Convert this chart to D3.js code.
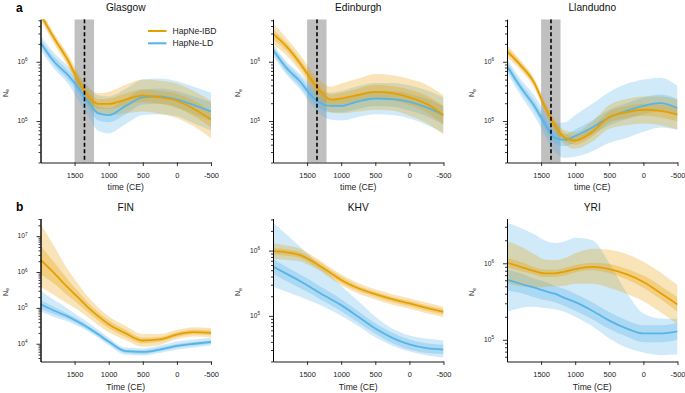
<!DOCTYPE html>
<html>
<head>
<meta charset="utf-8">
<script src="https://cdn.jsdelivr.net/npm/d3@7"></script>
<style>
  body { margin: 0; background: #fff; }
  svg { display: block; font-family: "Liberation Sans", Arial, Helvetica, sans-serif; }
</style>
</head>
<body>
<div id="chart"></div>
<script>
// sample years (CE) shared by every curve
const years = [2000, 1800, 1600, 1450, 1300, 1150, 1000, 750, 500, 250, 0, -250, -500];
const xTicks = [1500, 1000, 500, 0, -500];

// shaded period and event line on the British panels
const eventStart = 1500, eventEnd = 1215, eventYear = 1355;

// Glasgow
const glasgowIbdMed   = [6.3e6, 2.5e6, 1.07e6, 4.9e5, 2.6e5, 1.95e5, 1.95e5, 2.3e5, 2.7e5, 2.5e5, 2.2e5, 1.6e5, 1.07e5];
const glasgowIbdInLo  = [5.6e6, 2.2e6, 9.3e5, 4.2e5, 2.2e5, 1.6e5, 1.6e5, 1.86e5, 2.1e5, 1.95e5, 1.66e5, 1.2e5, 7.8e4];
const glasgowIbdInHi  = [7.1e6, 2.75e6, 1.23e6, 5.8e5, 3.2e5, 2.35e5, 2.4e5, 2.95e5, 3.4e5, 3.2e5, 2.9e5, 2.2e5, 1.48e5];
const glasgowIbdOutLo = [5.1e6, 2.0e6, 8.5e5, 3.7e5, 1.86e5, 1.29e5, 1.23e5, 1.35e5, 1.45e5, 1.32e5, 1.12e5, 8.1e4, 5.1e4];
const glasgowIbdOutHi = [7.8e6, 3.0e6, 1.35e6, 6.5e5, 3.7e5, 2.95e5, 3.1e5, 4.1e5, 5.0e5, 4.8e5, 4.3e5, 3.2e5, 2.2e5];
const glasgowLdMed    = [2.1e6, 1.0e6, 6.0e5, 3.7e5, 2.1e5, 1.35e5, 1.26e5, 1.8e5, 2.5e5, 2.6e5, 2.3e5, 1.86e5, 1.45e5];
const glasgowLdInLo   = [1.86e6, 8.7e5, 5.0e5, 3.0e5, 1.7e5, 1.02e5, 9.5e4, 1.3e5, 1.9e5, 1.95e5, 1.7e5, 1.3e5, 1.0e5];
const glasgowLdInHi   = [2.45e6, 1.2e6, 7.2e5, 4.6e5, 2.7e5, 1.8e5, 1.66e5, 2.4e5, 3.4e5, 3.55e5, 3.2e5, 2.6e5, 2.1e5];
const glasgowLdOutLo  = [1.6e6, 7.6e5, 4.3e5, 2.3e5, 1.2e5, 6.8e4, 6.2e4, 8.9e4, 1.26e5, 1.3e5, 1.2e5, 9.1e4, 6.9e4];
const glasgowLdOutHi  = [2.8e6, 1.4e6, 8.5e5, 5.9e5, 3.8e5, 2.7e5, 2.6e5, 3.5e5, 5.0e5, 5.2e5, 4.7e5, 3.8e5, 3.0e5];

// Edinburgh
const edinburghIbdMed   = [2.95e6, 1.8e6, 9.3e5, 5.2e5, 3.1e5, 2.3e5, 2.4e5, 2.75e5, 3.1e5, 2.95e5, 2.5e5, 1.95e5, 1.26e5];
const edinburghIbdInLo  = [2.45e6, 1.5e6, 7.9e5, 4.4e5, 2.6e5, 1.86e5, 1.9e5, 2.1e5, 2.35e5, 2.2e5, 1.86e5, 1.4e5, 8.9e4];
const edinburghIbdInHi  = [3.55e6, 2.1e6, 1.1e6, 6.3e5, 3.7e5, 2.8e5, 3.0e5, 3.55e5, 4.1e5, 3.9e5, 3.4e5, 2.7e5, 1.8e5];
const edinburghIbdOutLo = [2.0e6, 1.26e6, 6.8e5, 3.7e5, 2.0e5, 1.4e5, 1.35e5, 1.45e5, 1.55e5, 1.5e5, 1.23e5, 9.3e4, 5.9e4];
const edinburghIbdOutHi = [4.4e6, 2.5e6, 1.3e6, 7.4e5, 4.7e5, 3.8e5, 4.3e5, 5.2e5, 6.2e5, 5.9e5, 5.1e5, 4.1e5, 2.7e5];
const edinburghLdMed    = [1.6e6, 7.8e5, 4.6e5, 2.8e5, 2.0e5, 1.8e5, 1.8e5, 2.15e5, 2.4e5, 2.35e5, 2.1e5, 1.7e5, 1.26e5];
const edinburghLdInLo   = [1.4e6, 6.6e5, 3.8e5, 2.3e5, 1.6e5, 1.4e5, 1.4e5, 1.6e5, 1.8e5, 1.75e5, 1.5e5, 1.2e5, 8.7e4];
const edinburghLdInHi   = [1.8e6, 9.1e5, 5.5e5, 3.5e5, 2.5e5, 2.3e5, 2.4e5, 2.9e5, 3.2e5, 3.2e5, 2.9e5, 2.4e5, 1.8e5];
const edinburghLdOutLo  = [1.26e6, 6.0e5, 3.4e5, 1.95e5, 1.26e5, 1.05e5, 1.02e5, 1.17e5, 1.3e5, 1.26e5, 1.1e5, 8.7e4, 6.3e4];
const edinburghLdOutHi  = [2.0e6, 1.0e6, 6.2e5, 4.1e5, 3.2e5, 3.0e5, 3.2e5, 3.9e5, 4.4e5, 4.4e5, 4.0e5, 3.3e5, 2.5e5];

// Llandudno
const llandudnoIbdMed   = [1.5e6, 8.7e5, 4.4e5, 1.8e5, 8.5e4, 5.2e4, 4.7e4, 6.6e4, 1.17e5, 1.4e5, 1.55e5, 1.48e5, 1.29e5];
const llandudnoIbdInLo  = [1.35e6, 7.8e5, 3.9e5, 1.55e5, 7.2e4, 4.5e4, 4.0e4, 5.5e4, 9.5e4, 1.12e5, 1.23e5, 1.15e5, 9.8e4];
const llandudnoIbdInHi  = [1.7e6, 9.8e5, 4.9e5, 2.0e5, 1.0e5, 6.2e4, 5.5e4, 7.9e4, 1.45e5, 1.78e5, 1.95e5, 1.9e5, 1.7e5];
const llandudnoIbdOutLo = [1.2e6, 7.2e5, 3.6e5, 1.45e5, 6.8e4, 4.0e4, 3.4e4, 4.5e4, 7.4e4, 8.5e4, 9.1e4, 8.5e4, 7.2e4];
const llandudnoIbdOutHi = [1.9e6, 1.05e6, 5.2e5, 2.2e5, 1.07e5, 6.9e4, 6.5e4, 9.8e4, 1.86e5, 2.35e5, 2.6e5, 2.6e5, 2.3e5];
const llandudnoLdMed    = [8.5e5, 3.7e5, 1.8e5, 9.3e4, 5.2e4, 4.8e4, 5.6e4, 7.8e4, 1.15e5, 1.48e5, 1.8e5, 2.0e5, 1.66e5];
const llandudnoLdInLo   = [7.4e5, 3.2e5, 1.5e5, 7.6e4, 4.2e4, 3.8e4, 4.4e4, 5.9e4, 8.5e4, 1.07e5, 1.3e5, 1.48e5, 1.17e5];
const llandudnoLdInHi   = [9.8e5, 4.4e5, 2.2e5, 1.15e5, 6.6e4, 6.0e4, 7.2e4, 1.02e5, 1.55e5, 2.0e5, 2.5e5, 2.8e5, 2.35e5];
const llandudnoLdOutLo  = [6.5e5, 2.7e5, 1.23e5, 5.9e4, 3.0e4, 2.4e4, 2.5e4, 3.1e4, 4.3e4, 5.2e4, 6.6e4, 7.8e4, 7.1e4];
const llandudnoLdOutHi  = [1.12e6, 5.1e5, 2.7e5, 1.48e5, 9.3e4, 9.5e4, 1.26e5, 1.95e5, 3.1e5, 4.2e5, 5.0e5, 5.4e5, 3.9e5];

// FIN
const finIbdMed   = [2.2e6, 9.3e5, 3.7e5, 1.95e5, 1.02e5, 5.8e4, 3.5e4, 1.95e4, 1.23e4, 1.32e4, 1.8e4, 2.1e4, 2.0e4];
const finIbdInLo  = [8.7e5, 4.7e5, 2.2e5, 1.3e5, 7.4e4, 4.4e4, 2.7e4, 1.55e4, 1.02e4, 1.12e4, 1.55e4, 1.8e4, 1.74e4];
const finIbdInHi  = [5.5e6, 1.86e6, 6.2e5, 2.9e5, 1.4e5, 7.6e4, 4.5e4, 2.45e4, 1.48e4, 1.55e4, 2.1e4, 2.5e4, 2.4e4];
const finIbdOutLo = [3.9e5, 2.3e5, 1.3e5, 8.7e4, 5.4e4, 3.3e4, 2.1e4, 1.26e4, 8.3e3, 9.3e3, 1.35e4, 1.6e4, 1.5e4];
const finIbdOutHi = [2.2e7, 5.2e6, 1.17e6, 4.7e5, 2.0e5, 1.02e5, 5.8e4, 3.1e4, 1.86e4, 1.86e4, 2.45e4, 2.9e4, 2.75e4];
const finLdMed    = [1.26e5, 8.3e4, 5.8e4, 4.1e4, 2.8e4, 1.8e4, 1.15e4, 6.2e3, 5.9e3, 6.9e3, 8.7e3, 1.0e4, 1.12e4];
const finLdInLo   = [9.5e4, 6.6e4, 4.8e4, 3.5e4, 2.45e4, 1.58e4, 1.02e4, 5.5e3, 5.2e3, 6.2e3, 7.8e3, 8.9e3, 1.0e4];
const finLdInHi   = [1.66e5, 1.05e5, 6.9e4, 4.8e4, 3.2e4, 2.1e4, 1.29e4, 6.9e3, 6.6e3, 7.8e3, 9.8e3, 1.12e4, 1.26e4];
const finLdOutLo  = [7.9e4, 5.6e4, 4.2e4, 3.1e4, 2.2e4, 1.45e4, 9.1e3, 4.9e3, 4.7e3, 5.5e3, 6.9e3, 7.9e3, 8.9e3];
const finLdOutHi  = [3.0e5, 1.66e5, 9.5e4, 6.0e4, 3.9e4, 2.4e4, 1.48e4, 7.8e3, 7.4e3, 8.9e3, 1.15e4, 1.32e4, 1.48e4];

// KHV
const khvIbdMed   = [9.8e5, 9.4e5, 8.5e5, 7.1e5, 5.7e5, 4.5e5, 3.55e5, 2.65e5, 2.15e5, 1.8e5, 1.55e5, 1.33e5, 1.15e5];
const khvIbdInLo  = [8.7e5, 8.3e5, 7.6e5, 6.3e5, 5.1e5, 4.0e5, 3.2e5, 2.4e5, 1.95e5, 1.62e5, 1.4e5, 1.2e5, 1.05e5];
const khvIbdInHi  = [1.1e6, 1.05e6, 9.5e5, 7.9e5, 6.5e5, 5.0e5, 4.0e5, 2.9e5, 2.35e5, 1.95e5, 1.7e5, 1.45e5, 1.26e5];
const khvIbdOutLo = [7.4e5, 7.2e5, 6.8e5, 5.8e5, 4.8e5, 3.7e5, 2.95e5, 2.2e5, 1.78e5, 1.48e5, 1.29e5, 1.1e5, 9.5e4];
const khvIbdOutHi = [1.3e6, 1.2e6, 1.07e6, 8.7e5, 6.9e5, 5.4e5, 4.3e5, 3.2e5, 2.55e5, 2.15e5, 1.86e5, 1.6e5, 1.38e5];
const khvLdMed    = [5.7e5, 4.4e5, 3.4e5, 2.75e5, 2.2e5, 1.8e5, 1.46e5, 9.7e4, 6.4e4, 4.6e4, 3.65e4, 3.2e4, 3.05e4];
const khvLdInLo   = [4.4e5, 3.4e5, 2.65e5, 2.2e5, 1.77e5, 1.46e5, 1.18e5, 7.9e4, 5.3e4, 3.8e4, 3.05e4, 2.7e4, 2.6e4];
const khvLdInHi   = [7.4e5, 5.6e5, 4.3e5, 3.5e5, 2.8e5, 2.25e5, 1.8e5, 1.18e5, 7.7e4, 5.5e4, 4.35e4, 3.8e4, 3.6e4];
const khvLdOutLo  = [2.8e5, 2.35e5, 1.97e5, 1.69e5, 1.46e5, 1.22e5, 1.0e5, 7.0e4, 4.7e4, 3.5e4, 2.85e4, 2.5e4, 2.3e4];
const khvLdOutHi  = [2.7e6, 1.77e6, 1.13e6, 8.2e5, 5.7e5, 4.1e5, 2.9e5, 1.69e5, 9.7e4, 6.4e4, 5.0e4, 4.5e4, 4.2e4];

// YRI
const yriIbdMed   = [1.02e6, 9.0e5, 7.9e5, 7.4e5, 7.4e5, 7.8e5, 8.4e5, 9.0e5, 8.4e5, 7.2e5, 5.7e5, 4.1e5, 2.9e5];
const yriIbdInLo  = [8.9e5, 7.9e5, 7.1e5, 6.6e5, 6.6e5, 6.9e5, 7.6e5, 8.1e5, 7.4e5, 6.2e5, 4.8e5, 3.4e5, 2.3e5];
const yriIbdInHi  = [1.17e6, 1.05e6, 8.9e5, 8.3e5, 8.3e5, 8.7e5, 9.5e5, 1.02e6, 9.8e5, 8.5e5, 6.9e5, 5.1e5, 3.6e5];
const yriIbdOutLo = [5.4e5, 5.0e5, 4.8e5, 4.9e5, 5.0e5, 5.1e5, 5.4e5, 5.4e5, 4.8e5, 4.0e5, 3.2e5, 2.3e5, 1.6e5];
const yriIbdOutHi = [1.95e6, 1.66e6, 1.32e6, 1.12e6, 1.1e6, 1.17e6, 1.35e6, 1.55e6, 1.5e6, 1.32e6, 1.05e6, 7.6e5, 5.2e5];
const yriLdMed    = [6.1e5, 5.4e5, 4.8e5, 4.35e5, 4.0e5, 3.5e5, 3.1e5, 2.4e5, 1.78e5, 1.41e5, 1.21e5, 1.21e5, 1.29e5];
const yriLdInLo   = [4.4e5, 4.1e5, 3.6e5, 3.3e5, 3.1e5, 2.75e5, 2.4e5, 1.86e5, 1.38e5, 1.1e5, 9.3e4, 9.3e4, 1.0e5];
const yriLdInHi   = [8.3e5, 7.4e5, 6.3e5, 5.8e5, 5.1e5, 4.6e5, 4.0e5, 3.1e5, 2.3e5, 1.8e5, 1.55e5, 1.55e5, 1.66e5];
const yriLdOutLo  = [2.3e5, 2.6e5, 2.7e5, 2.6e5, 2.5e5, 2.3e5, 2.0e5, 1.5e5, 1.04e5, 7.9e4, 6.8e4, 6.3e4, 6.4e4];
const yriLdOutHi  = [3.4e6, 2.9e6, 2.4e6, 2.0e6, 1.84e6, 1.93e6, 2.15e6, 2.0e6, 1.0e6, 4.2e5, 2.2e5, 1.9e5, 1.88e5];

const methods = ["HapNe-IBD", "HapNe-LD"];
const colors = {ibd: "#E69F00", ld: "#56B4E9"};

// zip arrays into rows for d3.area / d3.line
function series(med, inLo, inHi, outLo, outHi) {
    return years.map((yr, i) => ({year: yr, med: med[i], inLo: inLo[i], inHi: inHi[i], outLo: outLo[i], outHi: outHi[i]}));
}

const panels = [
    {title: "Glasgow",   label: "a", yDomain: [2e4, 5.2e6],   event: true, legend: true, xLabel: "time (CE)",
     ibd: series(glasgowIbdMed, glasgowIbdInLo, glasgowIbdInHi, glasgowIbdOutLo, glasgowIbdOutHi),
     ld:  series(glasgowLdMed, glasgowLdInLo, glasgowLdInHi, glasgowLdOutLo, glasgowLdOutHi)},
    {title: "Edinburgh", yDomain: [2e4, 5.2e6], event: true, xLabel: "time (CE)",
     ibd: series(edinburghIbdMed, edinburghIbdInLo, edinburghIbdInHi, edinburghIbdOutLo, edinburghIbdOutHi),
     ld:  series(edinburghLdMed, edinburghLdInLo, edinburghLdInHi, edinburghLdOutLo, edinburghLdOutHi)},
    {title: "Llandudno", yDomain: [2e4, 5.2e6], event: true, xLabel: "time (CE)",
     ibd: series(llandudnoIbdMed, llandudnoIbdInLo, llandudnoIbdInHi, llandudnoIbdOutLo, llandudnoIbdOutHi),
     ld:  series(llandudnoLdMed, llandudnoLdInLo, llandudnoLdInHi, llandudnoLdOutLo, llandudnoLdOutHi)},
    {title: "FIN", label: "b", yDomain: [3.2e3, 3.1e7], xLabel: "Time (CE)",
     ibd: series(finIbdMed, finIbdInLo, finIbdInHi, finIbdOutLo, finIbdOutHi),
     ld:  series(finLdMed, finLdInLo, finLdInHi, finLdOutLo, finLdOutHi)},
    {title: "KHV", yDomain: [2e4, 3.1e6], xLabel: "Time (CE)",
     ibd: series(khvIbdMed, khvIbdInLo, khvIbdInHi, khvIbdOutLo, khvIbdOutHi),
     ld:  series(khvLdMed, khvLdInLo, khvLdInHi, khvLdOutLo, khvLdOutHi)},
    {title: "YRI", yDomain: [5.2e4, 3.85e6], xLabel: "Time (CE)",
     ibd: series(yriIbdMed, yriIbdInLo, yriIbdInHi, yriIbdOutLo, yriIbdOutHi),
     ld:  series(yriLdMed, yriLdInLo, yriLdInHi, yriLdOutLo, yriLdOutHi)}
];

// Layout
const W = 685, H = 393;
const colLeft = [40.5, 273, 507], plotW = 170.5;
const rowBox = [{top: 19.3, bottom: 162.5}, {top: 218.5, bottom: 361.5}];

// tick labels with a plain hyphen for negatives (keeps the last label inside the page)
const yearFormat = d => String(d).replace("−", "-");

const svg = d3.select("#chart").append("svg")
    .attr("width", W)
    .attr("height", H);

panels.forEach((p, i) => {
    const row = Math.floor(i / 3), col = i % 3;
    const left = colLeft[col], top = rowBox[row].top, bottom = rowBox[row].bottom;
    const h = bottom - top;

    const g = svg.append("g").attr("transform", `translate(${left}, ${top})`);

    const x = d3.scaleLinear().domain([2000, -500]).range([0, plotW]);
    const y = d3.scaleLog().domain(p.yDomain).range([h, 0]);

    const clipId = "clip" + i;
    g.append("clipPath").attr("id", clipId)
        .append("rect").attr("width", plotW).attr("height", h);
    const plot = g.append("g").attr("clip-path", `url(#${clipId})`);

    // bottleneck window
    if (p.event) {
        plot.append("rect")
            .attr("x", x(eventStart))
            .attr("width", x(eventEnd) - x(eventStart))
            .attr("y", 0)
            .attr("height", h)
            .attr("fill", "#c0c0c0");
    }

    const band = (lo, hi) => d3.area()
        .x(d => x(d.year))
        .y0(d => y(d[lo]))
        .y1(d => y(d[hi]))
        .curve(d3.curveMonotoneX);
    const line = d3.line()
        .x(d => x(d.year))
        .y(d => y(d.med))
        .curve(d3.curveMonotoneX);

    ["ld", "ibd"].forEach(k => {
        plot.append("path").datum(p[k])
            .attr("d", band("outLo", "outHi"))
            .attr("fill", colors[k]).attr("fill-opacity", 0.28);
        plot.append("path").datum(p[k])
            .attr("d", band("inLo", "inHi"))
            .attr("fill", colors[k]).attr("fill-opacity", 0.3);
    });
    ["ld", "ibd"].forEach(k => {
        plot.append("path").datum(p[k])
            .attr("d", line)
            .attr("fill", "none")
            .attr("stroke", colors[k])
            .attr("stroke-width", 1.8);
    });

    if (p.event) {
        plot.append("line")
            .attr("x1", x(eventYear)).attr("x2", x(eventYear))
            .attr("y1", 0).attr("y2", h)
            .attr("stroke", "#000")
            .attr("stroke-width", 1.6)
            .attr("stroke-dasharray", "4,2.5");
    }

    // X axis
    const xAxis = g.append("g")
        .attr("transform", `translate(0, ${h})`)
        .call(d3.axisBottom(x).tickValues(xTicks).tickSize(3.5).tickSizeOuter(0).tickPadding(6.5).tickFormat(yearFormat));
    xAxis.selectAll("text").attr("font-size", 7.5).attr("fill", "#222");

    // Y axis: majors + minors on a log scale
    const [lo, hi] = p.yDomain;
    const majors = [], minors = [];
    for (let e = Math.floor(Math.log10(lo)); e <= Math.ceil(Math.log10(hi)); e++) {
        for (let k = 1; k <= 9; k++) {
            const v = k * Math.pow(10, e);
            if (v < lo || v > hi) continue;
            (k === 1 ? majors : minors).push(v);
        }
    }
    g.append("g")
        .call(d3.axisLeft(y).tickValues(minors).tickSize(2).tickSizeOuter(0).tickFormat(""));
    const yAxis = g.append("g")
        .call(d3.axisLeft(y).tickValues(majors).tickSize(4).tickSizeOuter(0).tickFormat(""));
    majors.forEach(v => {
        const t = yAxis.append("text")
            .attr("x", -13)
            .attr("y", y(v) + 2.3)
            .attr("text-anchor", "end")
            .attr("fill", "#222")
            .attr("font-size", 6.6);
        t.append("tspan").text("10");
        t.append("tspan").attr("dy", -2.8).attr("font-size", 4.6).text(Math.round(Math.log10(v)));
    });
    g.selectAll(".domain").attr("stroke", "#000").attr("stroke-width", 0.9);
    g.selectAll(".tick line").attr("stroke", "#000").attr("stroke-width", 0.8);

    // Y label N_e
    const yl = g.append("text")
        .attr("transform", `translate(-33, ${h / 2 + 2}) rotate(-90)`)
        .attr("text-anchor", "middle")
        .attr("fill", "#222")
        .attr("font-size", 7.2);
    yl.append("tspan").text("N");
    yl.append("tspan").attr("dy", 1.8).attr("font-size", 5).text("e");

    // X label
    g.append("text")
        .attr("x", plotW / 2)
        .attr("y", h + 28)
        .attr("text-anchor", "middle")
        .attr("fill", "#222")
        .attr("font-size", 8.6)
        .text(p.xLabel);

    // title
    g.append("text")
        .attr("x", plotW / 2)
        .attr("y", -8)
        .attr("text-anchor", "middle")
        .attr("fill", "#111")
        .attr("font-size", 10.2)
        .text(p.title);

    if (p.label) {
        svg.append("text")
            .attr("x", 16)
            .attr("y", top - 7.6)
            .attr("font-size", 12)
            .attr("font-weight", "bold")
            .attr("fill", "#000")
            .text(p.label);
    }

    if (p.legend) {
        const lg = g.append("g").attr("transform", `translate(${148 - left}, ${31 - top})`);
        ["ibd", "ld"].forEach((k, j) => {
            lg.append("line")
                .attr("x1", 0).attr("x2", 18.5)
                .attr("y1", j * 12.3).attr("y2", j * 12.3)
                .attr("stroke", colors[k]).attr("stroke-width", 2);
            lg.append("text")
                .attr("x", 24.5).attr("y", j * 12.3 + 3)
                .attr("font-size", 8.6)
                .attr("fill", "#222")
                .text(methods[j]);
        });
    }
});
</script>
</body>
</html>
